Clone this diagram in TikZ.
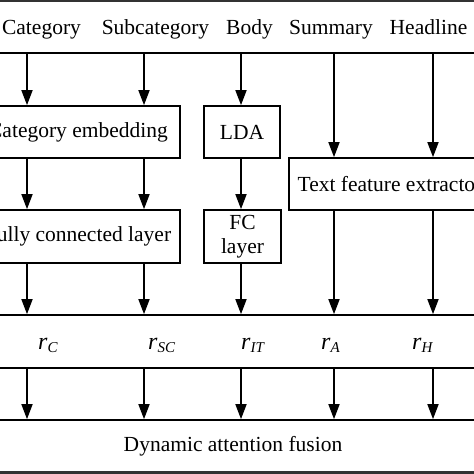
\documentclass[tikz,border=0pt]{standalone}
\usepackage{fontspec}
\setmainfont{Liberation Serif}
\usetikzlibrary{arrows.meta}
\newcommand{\rvec}[1]{{\fontsize{24}{24}\selectfont\textit{r}}\raisebox{-3pt}{\fontsize{15}{15}\selectfont\textit{#1}}}
\begin{document}
\begin{tikzpicture}[x=1pt,y=-1pt,
  every node/.style={font=\fontsize{21.5}{24}\selectfont},
  blk/.style={draw,line width=1.7pt,inner sep=0pt,align=center},
  arr/.style={line width=1.7pt,-{Triangle[length=15pt,width=11pt]}}]
\useasboundingbox (0,0) rectangle (474,474);
\clip (0,0) rectangle (474,474);
% Inputs
\node[blk,minimum width=540,minimum height=52] (inbar) at (237,27) {};
\node[anchor=base] (cat) at (41.5,34) {Category};
\node[anchor=base] (subcat) at (155.5,34) {Subcategory};
\node[anchor=base] (body) at (249.5,34) {Body};
\node[anchor=base] (summ) at (331,34) {Summary};
\node[anchor=base] (head) at (428.5,34) {Headline};
\draw[line width=3pt,black!80] (inbar.north west) -- (inbar.north east);
% Columns
\coordinate (c1) at (27,0);
\coordinate (c2) at (144,0);
\coordinate (c3) at (241,0);
\coordinate (c4) at (334,0);
\coordinate (c5) at (433,0);
% Encoders
\node[blk,minimum width=204,minimum height=52] (emb) at (78,132) {Category embedding};
\node[blk,minimum width=76,minimum height=52] (lda) at (242,132) {LDA};
\node[blk,minimum width=202,minimum height=52] (tfe) at (390,184) {Text feature extractor};
\node[blk,minimum width=204,minimum height=53] (fcl) at (78,236.5) {Fully connected layer};
\node[blk,minimum width=77,minimum height=53] (fc) at (242.5,236.5) {FC\\layer};
% Representations
\node[blk,minimum width=540,minimum height=53] (rbar) at (237,341.5) {};
\node[anchor=base west,inner sep=0pt] (rc) at (38,349) {\rvec{C}};
\node[anchor=base west,inner sep=0pt] (rsc) at (148,349) {\rvec{SC}};
\node[anchor=base west,inner sep=0pt] (rit) at (241,349) {\rvec{IT}};
\node[anchor=base west,inner sep=0pt] (ra) at (321,349) {\rvec{A}};
\node[anchor=base west,inner sep=0pt] (rh) at (412,349) {\rvec{H}};
% Fusion
\node[blk,minimum width=540,minimum height=52] (fus) at (233,446) {Dynamic attention fusion};
\draw[line width=3pt,black!80] (fus.south west) -- (fus.south east);
% Arrows
\foreach \c in {c1,c2} {
  \draw[arr] (\c |- inbar.south) -- (\c |- emb.north);
  \draw[arr] (\c |- emb.south) -- (\c |- fcl.north);
  \draw[arr] (\c |- fcl.south) -- (\c |- rbar.north);
}
\draw[arr] (c3 |- inbar.south) -- (c3 |- lda.north);
\draw[arr] (c3 |- lda.south) -- (c3 |- fc.north);
\draw[arr] (c3 |- fc.south) -- (c3 |- rbar.north);
\foreach \c in {c4,c5} {
  \draw[arr] (\c |- inbar.south) -- (\c |- tfe.north);
  \draw[arr] (\c |- tfe.south) -- (\c |- rbar.north);
}
\foreach \c in {c1,c2,c3,c4,c5}
  \draw[arr] (\c |- rbar.south) -- (\c |- fus.north);
\end{tikzpicture}
\end{document}
